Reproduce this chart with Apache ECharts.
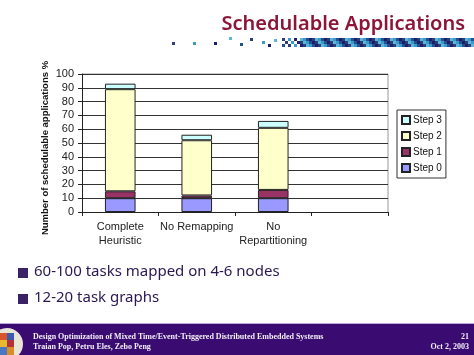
<!DOCTYPE html>
<html>
<head>
<meta charset="utf-8">
<script src="https://cdn.jsdelivr.net/npm/echarts@6/dist/echarts.min.js"></script>
<style>
  html, body { margin: 0; padding: 0; background: #fff; }
  #chart { width: 474px; height: 355px; }
</style>
</head>
<body>
<div id="chart"></div>
<script>
// categories (the 4th slot is empty in the original slide)
var categories = ['Complete\nHeuristic', 'No Remapping', 'No\nRepartitioning', ''];
// stacked segments, % of schedulable applications
var step0 = [10, 10, 10, '-'];
var step1 = [5, 2, 6, '-'];
var step2 = [74, 40, 45, '-'];
var step3 = [4, 4, 5, '-'];
var yTicks = [0, 10, 20, 30, 40, 50, 60, 70, 80, 90, 100];

var colors = {
  step0: '#9999ff',
  step1: '#993366',
  step2: '#ffffcc',
  step3: '#ccffff'
};

// decorative square strip under the title
function squareStrip() {
  var out = [];
  var blues = ['#2c3e78', '#3a9ac9', '#1b1f6b', '#5bb6d8', '#24508f'];
  var lone = [[172, 42], [193, 42], [214, 42], [229, 37], [240, 43], [250, 38], [262, 41], [268, 44], [274, 39]];
  lone.forEach(function (p, i) {
    out.push({ type: 'rect', shape: { x: p[0], y: p[1], width: 3, height: 3 },
      style: { fill: blues[i % blues.length] } });
  });
  for (var x = 282; x < 474; x += 3) {
    var k = Math.floor((x - 282) / 3);
    for (var r = 0; r < 3; r++) {
      if (x < 300 && (k + r) % 2) continue;
      out.push({ type: 'rect', shape: { x: x, y: 38 + r * 3, width: 3, height: 3 },
        style: { fill: blues[(k * 3 + r * 2) % blues.length] } });
    }
  }
  return out;
}

var chart = echarts.init(document.getElementById('chart'));
var barBorder = { borderColor: '#222', borderWidth: 1 };
var footFont = 'bold 8px "Liberation Serif"';

var option = {
  animation: false,
  title: {
    text: 'Schedulable Applications',
    right: 4,
    top: 9,
    textStyle: { color: '#8c1538', fontSize: 20, fontWeight: 600, fontFamily: 'Noto Sans' }
  },
  legend: {
    orient: 'vertical',
    left: 397,
    top: 110,
    data: ['Step 3', 'Step 2', 'Step 1', 'Step 0'],
    itemWidth: 8,
    itemHeight: 8,
    itemGap: 6,
    padding: [5, 4, 5, 4],
    borderColor: '#333',
    borderWidth: 1,
    textStyle: { fontFamily: 'Arial, Liberation Sans', fontSize: 10, color: '#111', padding: [0, 0, 0, -2] },
    icon: 'rect'
  },
  grid: { left: 82, right: 86, top: 74, bottom: 143 },
  xAxis: {
    type: 'category',
    data: categories,
    axisLine: { lineStyle: { color: '#222' } },
    axisTick: { show: true, length: 4, inside: false, lineStyle: { color: '#222' } },
    axisLabel: { interval: 0, fontFamily: 'Arial, Liberation Sans', fontSize: 11, color: '#222', lineHeight: 14, margin: 8 }
  },
  yAxis: {
    type: 'value',
    min: 0,
    max: 100,
    interval: 10,
    axisLine: { show: true, lineStyle: { color: '#222' } },
    axisTick: { show: true, length: 4, lineStyle: { color: '#222' } },
    axisLabel: {
      fontFamily: 'Arial, Liberation Sans', fontSize: 11, color: '#222', margin: 8,
      formatter: function (v) { return yTicks.indexOf(v) >= 0 ? String(v) : ''; }
    },
    splitLine: { lineStyle: { color: '#333', width: 1 } }
  },
  series: [
    { name: 'Step 0', type: 'bar', stack: 's', barWidth: '40%', data: step0,
      itemStyle: Object.assign({ color: colors.step0 }, barBorder) },
    { name: 'Step 1', type: 'bar', stack: 's', data: step1,
      itemStyle: Object.assign({ color: colors.step1 }, barBorder) },
    { name: 'Step 2', type: 'bar', stack: 's', data: step2,
      itemStyle: Object.assign({ color: colors.step2 }, barBorder) },
    { name: 'Step 3', type: 'bar', stack: 's', data: step3,
      itemStyle: Object.assign({ color: colors.step3 }, barBorder) }
  ],
  graphic: [
    // plot frame top/right
    { type: 'polyline', shape: { points: [[82, 74], [388, 74], [388, 212]] },
      style: { stroke: '#999', lineWidth: 1, fill: null }, silent: true },
    // y axis title
    { type: 'text', x: 45, y: 148, rotation: Math.PI / 2,
      style: { text: 'Number of schedulable applications %', fill: '#111',
        font: 'bold 9.5px Arial, "Liberation Sans"', textAlign: 'center', textVerticalAlign: 'middle' } },
    // bullets
    { type: 'rect', shape: { x: 18, y: 268, width: 10, height: 10 }, style: { fill: '#3b2266' } },
    { type: 'text', left: 34, top: 264,
      style: { text: '60-100 tasks mapped on 4-6 nodes', fill: '#2a1752', font: '15px "Noto Sans"' } },
    { type: 'rect', shape: { x: 18, y: 294, width: 10, height: 10 }, style: { fill: '#3b2266' } },
    { type: 'text', left: 34, top: 290,
      style: { text: '12-20 task graphs', fill: '#2a1752', font: '15px "Noto Sans"' } },
    // footer band
    { type: 'rect', shape: { x: 0, y: 324, width: 474, height: 31 }, style: { fill: '#3a0b70' } },
    { type: 'rect', shape: { x: 0, y: 323, width: 474, height: 1 }, style: { fill: '#b9a9d4' } },
    // logo
    { type: 'circle', shape: { cx: 7, cy: 344, r: 16 }, style: { fill: '#e9e4d8' } },
    { type: 'rect', shape: { x: 0, y: 333, width: 7, height: 7 }, style: { fill: '#d9532b' } },
    { type: 'rect', shape: { x: 7, y: 333, width: 7, height: 7 }, style: { fill: '#3d5ab0' } },
    { type: 'rect', shape: { x: 0, y: 340, width: 7, height: 7 }, style: { fill: '#e8b830' } },
    { type: 'rect', shape: { x: 7, y: 340, width: 7, height: 7 }, style: { fill: '#b2323c' } },
    { type: 'rect', shape: { x: 0, y: 347, width: 7, height: 8 }, style: { fill: '#4a78c0' } },
    { type: 'rect', shape: { x: 7, y: 347, width: 7, height: 8 }, style: { fill: '#d98a2b' } },
    { type: 'text', left: 33, top: 333,
      style: { text: 'Design Optimization of Mixed Time/Event-Triggered Distributed Embedded Systems',
        fill: '#f2eefa', font: footFont } },
    { type: 'text', left: 33, top: 343,
      style: { text: 'Traian Pop, Petru Eles, Zebo Peng', fill: '#f2eefa', font: footFont } },
    { type: 'text', right: 5, top: 333,
      style: { text: '21', fill: '#f2eefa', font: footFont, textAlign: 'right' } },
    { type: 'text', right: 5, top: 343,
      style: { text: 'Oct 2, 2003', fill: '#f2eefa', font: footFont, textAlign: 'right' } }
  ].concat(squareStrip())
};

chart.setOption(option);
</script>
</body>
</html>
